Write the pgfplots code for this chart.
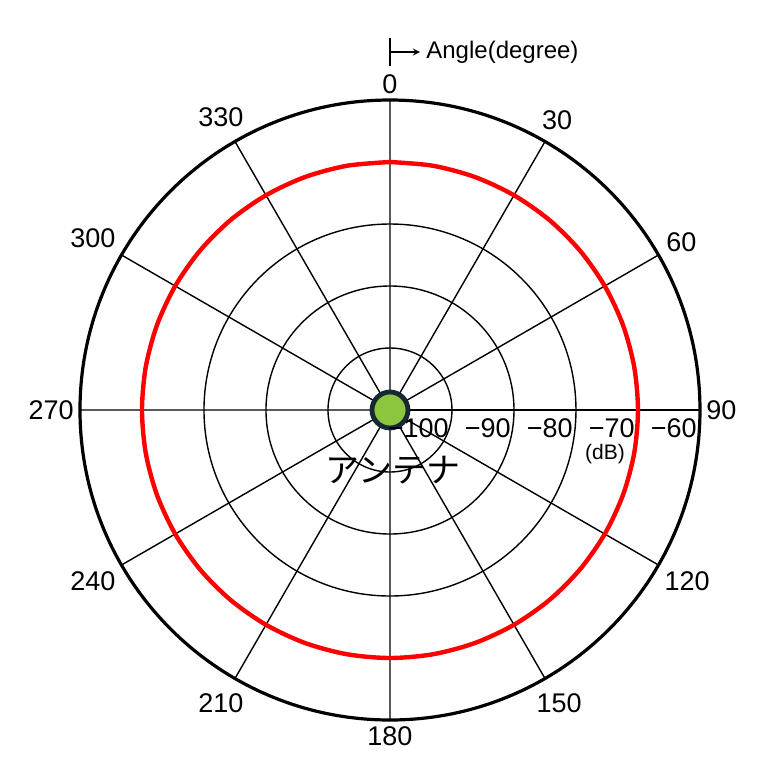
\documentclass[border=0pt]{standalone}
\usepackage{pgfplots}
\pgfplotsset{compat=1.18}
\usepgfplotslibrary{polar}
\usepackage{pgfplotstable}
\usepackage{fontspec}
\setmainfont{Liberation Sans}
\newfontfamily\cjk{Noto Sans CJK JP}
\definecolor{antgreen}{RGB}{140,198,63}
\definecolor{antedge}{RGB}{22,40,50}
\pgfplotstableread{
deg db
0 -70
10 -70
20 -70
30 -70
40 -70
50 -70
60 -70
70 -70
80 -70
90 -70
100 -70
110 -70
120 -70
130 -70
140 -70
150 -70
160 -70
170 -70
180 -70
190 -70
200 -70
210 -70
220 -70
230 -70
240 -70
250 -70
260 -70
270 -70
280 -70
290 -70
300 -70
310 -70
320 -70
330 -70
340 -70
350 -70
360 -70
}\radtable
\begin{document}
\begin{tikzpicture}
\path[use as bounding box] (-195pt,-187pt) rectangle (189pt,205pt);
\begin{polaraxis}[
  at={(0,0)}, anchor=center,
  width=310pt, height=310pt, scale only axis,
  ymin=0, ymax=50,
  ytick={10,20,30,40,50},
  yticklabels={},
  xtick={0,30,...,330},
  xticklabels={90,60,30,0,330,300,270,240,210,180,150,120},
  xticklabel style={font=\fontsize{13.5}{15}\selectfont, inner sep=3pt},
  major tick length=0pt,
  grid=major,
  major grid style={black, line width=0.7pt},
  x axis line style={black, line width=1.6pt},
  y axis line style={black, line width=0.7pt},
]
\addplot[red, line width=2.2pt, smooth]
  table[x expr={90-\thisrow{deg}}, y expr={\thisrow{db}+110}] {\radtable};
\addplot[only marks, mark=*, mark size=9pt,
  mark options={fill=antgreen, draw=antedge, line width=2.4pt}]
  coordinates {(0,0)};
\end{polaraxis}
\begin{scope}[font=\fontsize{13.5}{15}\selectfont]
\node[anchor=north east, inner sep=1pt] at (30.5pt,-3pt) {−100};
\node[anchor=north east, inner sep=1pt] at (61.5pt,-3pt) {−90};
\node[anchor=north east, inner sep=1pt] at (92.5pt,-3pt) {−80};
\node[anchor=north east, inner sep=1pt] at (123.5pt,-3pt) {−70};
\node[anchor=north east, inner sep=1pt] at (154.5pt,-3pt) {−60};
\end{scope}
\node[font=\fontsize{10.5}{12}\selectfont] at (107.5pt,-22pt) {(dB)};
\node[font=\cjk\fontsize{17}{20}\selectfont] at (1.5pt,-30pt) {アンテナ};
\draw[line width=0.6pt] (0,186pt) -- (0,172pt);
\draw[line width=0.6pt, -stealth] (0,179pt) -- (15pt,179pt);
\node[anchor=west, inner sep=1pt, font=\fontsize{12}{14}\selectfont] at (17pt,179pt) {Angle(degree)};
\end{tikzpicture}
\end{document}
